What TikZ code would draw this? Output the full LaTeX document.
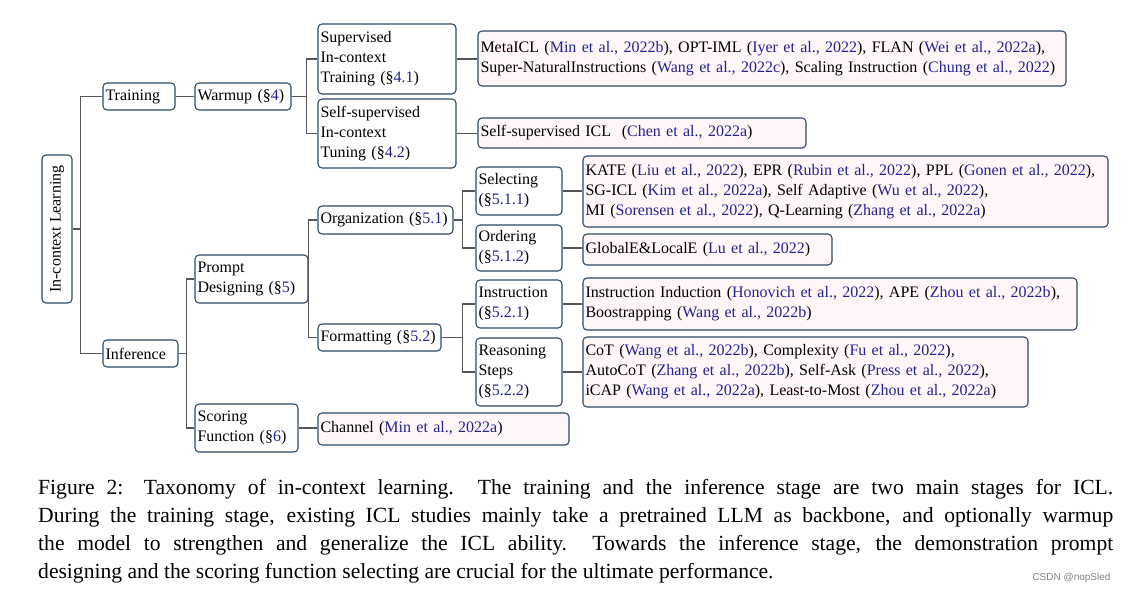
\documentclass[tikz,border=0pt]{standalone}
\usepackage{fontspec}
\setmainfont{Liberation Serif}
\newfontfamily\wmfont{Liberation Sans}
\definecolor{bc}{HTML}{2E4A66}
\definecolor{cite}{HTML}{23238F}
\definecolor{leaf}{HTML}{FFF6F8}
\definecolor{ln}{HTML}{555555}
\newcommand{\ct}[1]{\textcolor{cite}{#1}}
\tikzset{
  box/.style={draw=bc, line width=1.1pt, rounded corners=4pt, fill=white, align=left, inner xsep=2.5pt, inner ysep=0pt,
    font=\fontsize{16}{20}\selectfont},
  lf/.style={box, fill=leaf},
  ed/.style={draw=ln, line width=1.4pt},
}
\newcommand{\bx}[7]{% name, style, x1, y1, x2, y2, text
  \node[#2, minimum width=#5-#3, minimum height=#6-#4, text width=#5-#3-5] (#1) at ({(#3+#5)/2},{(#4+#6)/2}) {#7};}
\begin{document}
\begin{tikzpicture}[x=1pt,y=-1pt]
\useasboundingbox[fill=white] (0,0) rectangle (1129,595);
\node[box, rotate=90, minimum width=148, minimum height=30, align=center] (icl) at (57,229) {In-context Learning};
\bx{tr}{box}{103}{83}{175}{110}{Training}
\bx{wu}{box}{195}{83}{291}{110}{Warmup (§\ct{4})}
\bx{sict}{box}{318}{24}{456}{94}{Supervised\\In-context\\Training (§\ct{4.1})}
\bx{ssict}{box}{318}{99}{456}{168}{Self-supervised\\In-context\\Tuning (§\ct{4.2})}
\bx{l1}{lf}{478}{31}{1066}{86}{MetaICL (\ct{Min et al., 2022b}), OPT-IML (\ct{Iyer et al., 2022}), FLAN (\ct{Wei et al., 2022a}),\\Super-NaturalInstructions (\ct{Wang et al., 2022c}), Scaling Instruction (\ct{Chung et al., 2022})}
\bx{l2}{lf}{478}{118}{806}{148}{Self-supervised ICL\ \ (\ct{Chen et al., 2022a})}
\bx{inf}{box}{103}{340}{178}{367}{Inference}
\bx{pd}{box}{195}{255}{308}{303}{Prompt\\Designing (§\ct{5})}
\bx{sf}{box}{195}{404}{298}{452}{Scoring\\Function (§\ct{6})}
\bx{org}{box}{318}{206}{453}{234}{Organization (§\ct{5.1})}
\bx{fmt}{box}{318}{324}{441}{351}{Formatting (§\ct{5.2})}
\bx{sel}{box}{476}{167}{562}{215}{Selecting\\(§\ct{5.1.1})}
\bx{ord}{box}{476}{225}{562}{271}{Ordering\\(§\ct{5.1.2})}
\bx{ins}{box}{476}{280}{562}{328}{Instruction\\(§\ct{5.2.1})}
\bx{rs}{box}{476}{338}{562}{406}{Reasoning\\Steps\\(§\ct{5.2.2})}
\bx{lk}{lf}{583}{156}{1108}{227}{KATE (\ct{Liu et al., 2022}), EPR (\ct{Rubin et al., 2022}), PPL (\ct{Gonen et al., 2022}),\\SG-ICL (\ct{Kim et al., 2022a}), Self Adaptive (\ct{Wu et al., 2022}),\\MI (\ct{Sorensen et al., 2022}), Q-Learning (\ct{Zhang et al., 2022a})}
\bx{lg}{lf}{583}{234}{832}{265}{GlobalE\&LocalE (\ct{Lu et al., 2022})}
\bx{li}{lf}{583}{278}{1077}{330}{Instruction Induction (\ct{Honovich et al., 2022}), APE (\ct{Zhou et al., 2022b}),\\Boostrapping (\ct{Wang et al., 2022b})}
\bx{lc}{lf}{583}{337}{1028}{407}{CoT (\ct{Wang et al., 2022b}), Complexity (\ct{Fu et al., 2022}),\\AutoCoT (\ct{Zhang et al., 2022b}), Self-Ask (\ct{Press et al., 2022}),\\iCAP (\ct{Wang et al., 2022a}), Least-to-Most (\ct{Zhou et al., 2022a})}
\bx{ch}{lf}{318}{413}{569}{445}{Channel (\ct{Min et al., 2022a})}
% edges
\draw[ed] (icl.south) -- ++(8,0) |- (tr.west);
\draw[ed] (icl.south) -- ++(8,0) |- (inf.west);
\draw[ed] (tr) -- (wu);
\draw[ed] (wu.east) -- ++(15,0) |- (sict.west);
\draw[ed] (wu.east) -- ++(15,0) |- (ssict.west);
\draw[ed] (sict.east) -- (sict.east -| l1.west);
\draw[ed] (ssict.east) -- (ssict.east -| l2.west);
\draw[ed] (inf.east) -- ++(8,0) |- (pd.west);
\draw[ed] (inf.east) -- ++(8,0) |- (sf.west);
\draw[ed] (pd.east) -- ++(0,0) |- (org.west);
\draw[ed] (pd.east) -- ++(0,0) |- (fmt.west);
\draw[ed] (sf) -- (sf -| ch.west);
\draw[ed] (org.east) -- ++(9,0) |- (sel.west);
\draw[ed] (org.east) -- ++(9,0) |- (ord.west);
\draw[ed] (fmt.east) -- ++(21,0) |- (ins.west);
\draw[ed] (fmt.east) -- ++(21,0) |- (rs.west);
\draw[ed] (sel) -- (sel -| lk.west);
\draw[ed] (ord) -- (ord -| lg.west);
\draw[ed] (ins) -- (ins -| li.west);
\draw[ed] (rs) -- (rs -| lc.west);
% caption
\node[anchor=north west, text width=1075pt, align=justify, inner sep=0pt, font=\fontsize{21.6}{28}\selectfont] (cap) at (38,479) {Figure 2: Taxonomy of in-context learning.\ \ The training and the inference stage are two main stages for ICL.\linebreak During the training stage, existing ICL studies mainly take a pretrained LLM as backbone, and optionally warmup\linebreak the model to strengthen and generalize the ICL ability.\ \ Towards the inference stage, the demonstration prompt\linebreak designing and the scoring function selecting are crucial for the ultimate performance.};
\node[anchor=east, text=gray, font=\fontsize{10}{12}\selectfont\wmfont] (wm) at (1114,578) {CSDN @nopSled};
\end{tikzpicture}
\end{document}
